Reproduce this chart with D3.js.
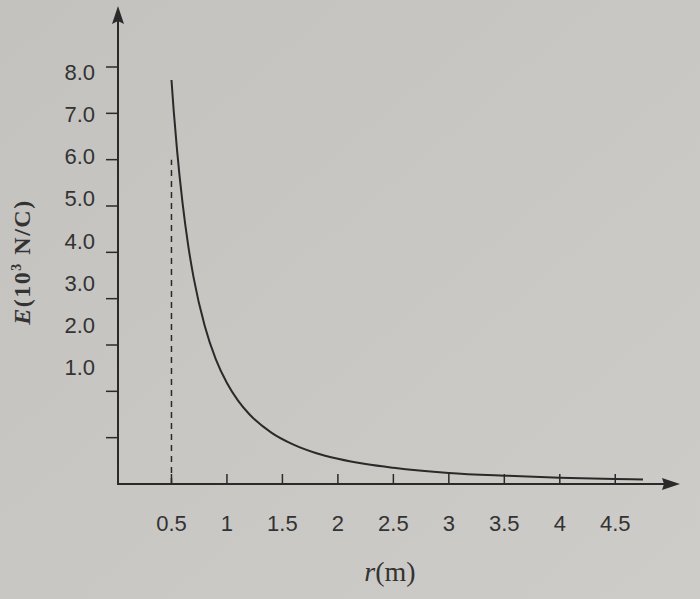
<!DOCTYPE html>
<html><head><meta charset="utf-8">
<script src="https://d3js.org/d3.v7.min.js"></script>
<style>body{margin:0;background:#cac7c3}</style></head>
<body><svg id="c" width="700" height="599"></svg>
<script>
const rValues=[0.5,0.52,0.55,0.6,0.65,0.7,0.8,0.9,1.0,1.1,1.2,1.4,1.6,1.8,2.0,2.25,2.5,3.0,3.5,4.0,4.5,4.75];
const eValues=[8.72,8.06,7.21,6.06,5.16,4.45,3.41,2.69,2.18,1.80,1.51,1.11,0.85,0.67,0.545,0.43,0.35,0.24,0.18,0.136,0.108,0.097];
const xTicks=[0.5,1,1.5,2,2.5,3,3.5,4,4.5];
const xTickLabels=["0.5","1","1.5","2","2.5","3","3.5","4","4.5"];
const yTicks=[1,2,3,4,5,6,7,8,9];
const yTickLabels=["1.0","2.0","3.0","4.0","5.0","6.0","7.0","8.0"];
const svg=d3.select("#c");
const bg=svg.append("defs").append("linearGradient").attr("id","g").attr("x1",0).attr("y1",0).attr("x2",1).attr("y2",1);
bg.append("stop").attr("offset",0).attr("stop-color","#c4c2bf");
bg.append("stop").attr("offset",1).attr("stop-color","#ceccc8");
svg.append("rect").attr("width",700).attr("height",599).attr("fill","url(#g)");
const x=d3.scaleLinear().domain([0,4.75]).range([116,643]);
const y=d3.scaleLinear().domain([0,9]).range([484,67]);
const labelY=d3.scaleLinear().domain([1,8]).range([367,72]);
const ink="#2a2a2a";
svg.append("line").attr("x1",x(0)+2).attr("x2",668).attr("y1",y(0)).attr("y2",y(0)).attr("stroke",ink).attr("stroke-width",2);
svg.append("path").attr("d",`M680,${y(0)} L662,${y(0)-6} L664,${y(0)} L662,${y(0)+6}Z`).attr("fill",ink);
svg.append("line").attr("x1",118).attr("x2",118).attr("y1",y(0)+1).attr("y2",20).attr("stroke",ink).attr("stroke-width",2);
svg.append("path").attr("d","M118,6 L112,24 L118,21 L124,24Z").attr("fill",ink);
svg.selectAll(".xt").data(xTicks).join("line").attr("x1",d=>x(d)).attr("x2",d=>x(d)).attr("y1",y(0)).attr("y2",y(0)-10).attr("stroke",ink).attr("stroke-width",1.5);
svg.selectAll(".xl").data(xTicks).join("text").attr("x",d=>x(d)).attr("y",531).attr("text-anchor","middle")
 .attr("font-family","Liberation Sans, Arial").attr("font-size",22).attr("fill","#333").text((d,i)=>xTickLabels[i]);
svg.selectAll(".yt").data(yTicks).join("line").attr("x1",106).attr("x2",118).attr("y1",d=>y(d)).attr("y2",d=>y(d)).attr("stroke",ink).attr("stroke-width",1.5);
svg.selectAll(".yl").data(yTickLabels).join("text").attr("x",95).attr("y",(d,i)=>labelY(i+1)+8).attr("text-anchor","end")
 .attr("font-family","Liberation Sans, Arial").attr("font-size",22).attr("fill","#333").text(d=>d);
svg.append("line").attr("x1",x(0.5)).attr("x2",x(0.5)).attr("y1",y(0)).attr("y2",y(7)).attr("stroke",ink).attr("stroke-width",1.5).attr("stroke-dasharray","6,5");
svg.append("path").datum(rValues.map((r,i)=>[r,eValues[i]])).attr("fill","none").attr("stroke",ink).attr("stroke-width",2)
 .attr("d",d3.line().x(d=>x(d[0])).y(d=>y(d[1])).curve(d3.curveMonotoneX));
svg.append("text").attr("transform","translate(30,262) rotate(-90)").attr("text-anchor","middle")
 .attr("font-family","Liberation Serif, serif").attr("font-size",24).attr("font-weight","bold").attr("fill","#333").attr("letter-spacing",1.5)
 .html('<tspan font-style="italic">E</tspan>(10<tspan font-size="14" dy="-9">3</tspan><tspan dy="9"> N/C)</tspan>');
svg.append("text").attr("x",390).attr("y",581).attr("text-anchor","middle").attr("font-family","Liberation Serif, serif").attr("font-size",28).attr("fill","#333")
 .html('<tspan font-style="italic">r</tspan>(m)');
</script></body></html>
